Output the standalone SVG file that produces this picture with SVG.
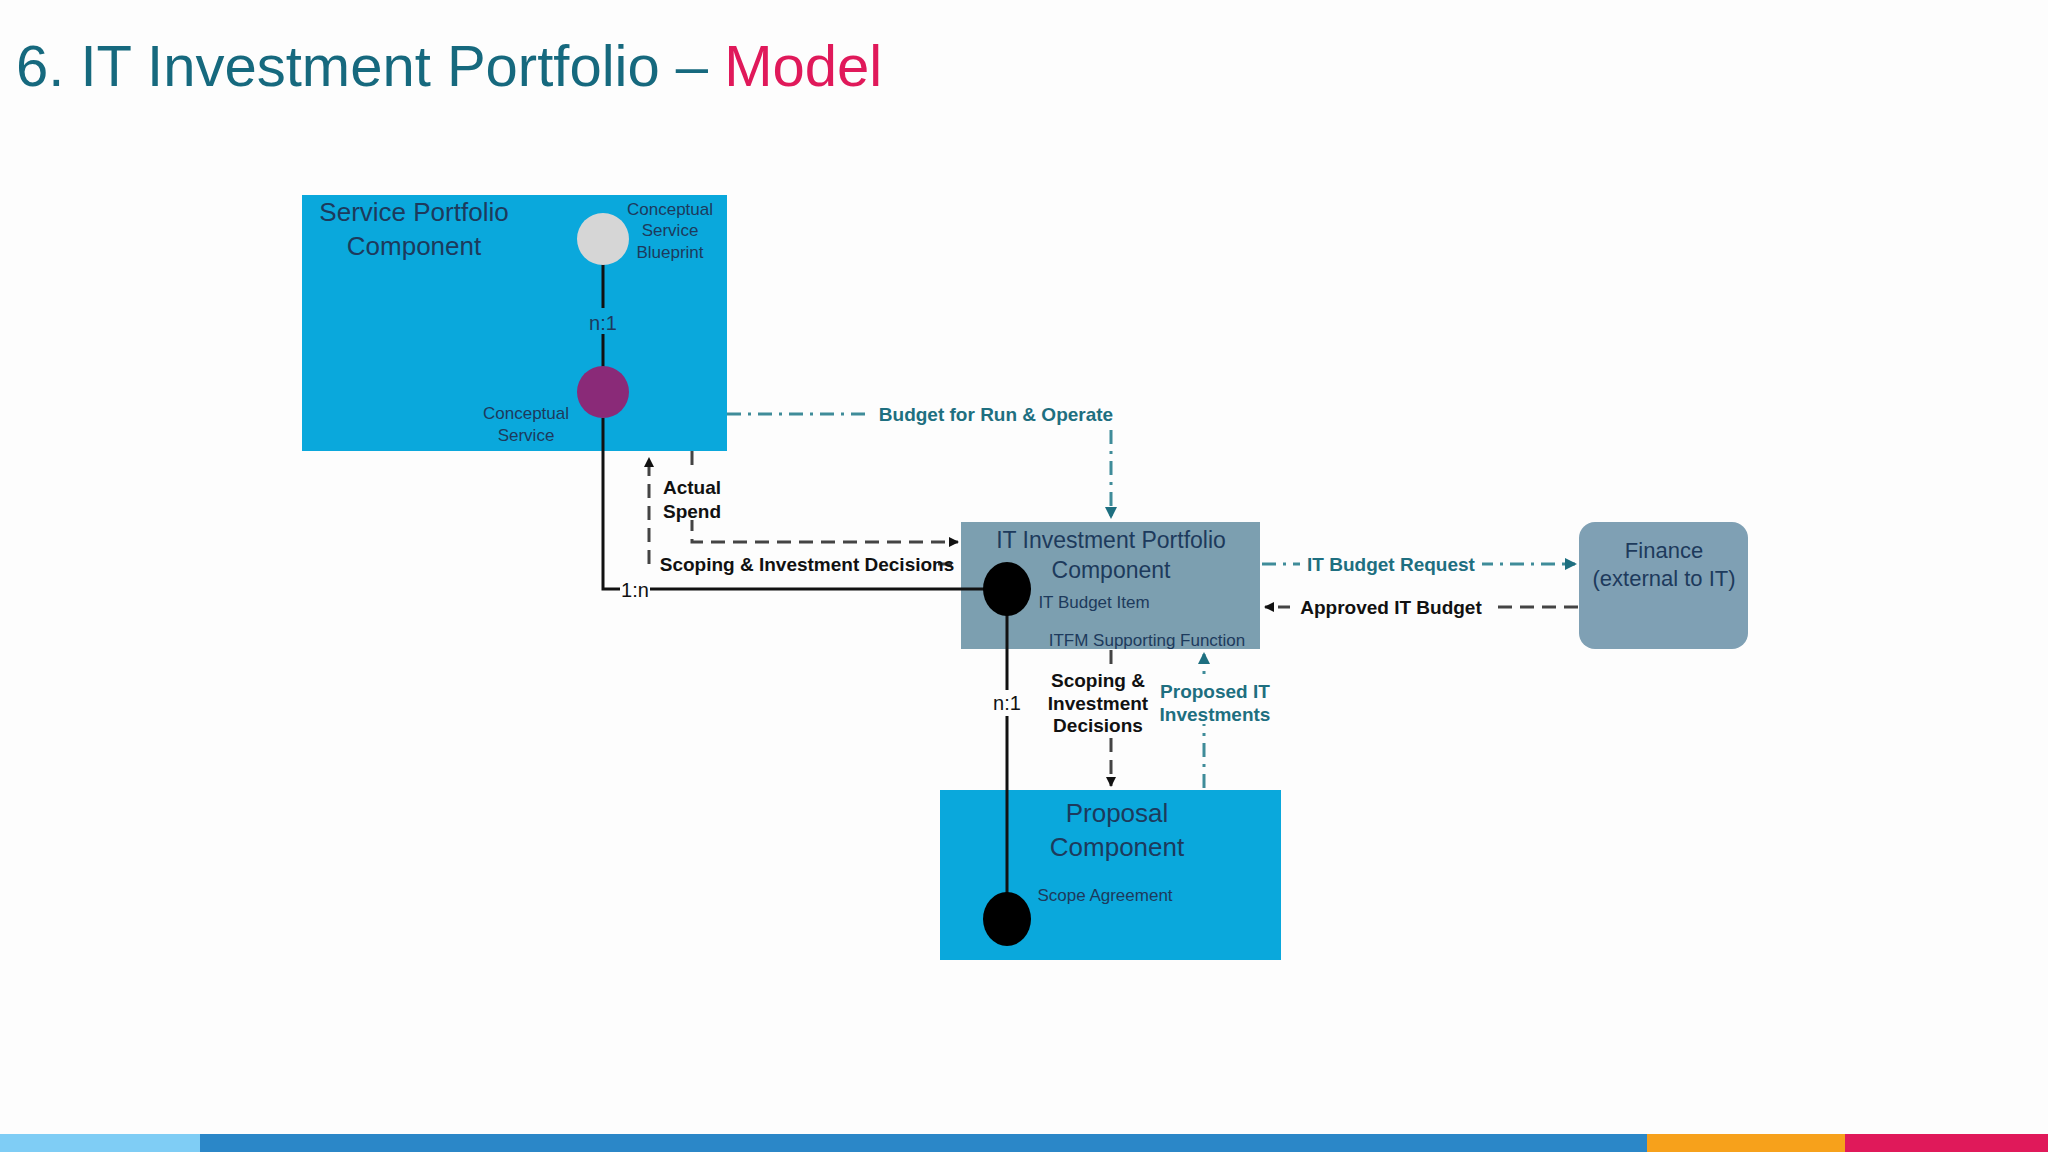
<svg xmlns="http://www.w3.org/2000/svg" width="2048" height="1152" viewBox="0 0 2048 1152">
<style>
text{font-family:"Liberation Sans",Arial,sans-serif}
.t{font-size:26px;fill:#1d3a5c;text-anchor:middle}
.s{font-size:17px;fill:#1d3a5c;text-anchor:middle}
.l{font-size:19px;font-weight:bold;fill:#111;text-anchor:middle}
.lt{font-size:19px;font-weight:bold;fill:#1e6f80;text-anchor:middle}
.k{stroke:#111;stroke-width:3;fill:none}
.d{stroke:#444;stroke-width:3;fill:none;stroke-dasharray:14 8}
.dt{stroke:#3f8c99;stroke-width:3;fill:none;stroke-dasharray:14 7 3 7}
</style>
<defs>
<marker id="ab" markerWidth="10" markerHeight="10" refX="9" refY="5" orient="auto" markerUnits="userSpaceOnUse" viewBox="0 0 10 10"><path d="M0,0L10,5L0,10z" fill="#111"/></marker>
<marker id="at" markerWidth="12" markerHeight="12" refX="10" refY="6" orient="auto" markerUnits="userSpaceOnUse" viewBox="0 0 12 12"><path d="M0,0L12,6L0,12z" fill="#1e6f80"/></marker>
</defs>
<rect width="2048" height="1152" fill="#fdfdfd"/>
<text x="16" y="86" style="font-size:58px;fill:#16697e">6. IT Investment Portfolio – <tspan fill="#e0195a">Model</tspan></text>
<g id="bar"><rect x="0" y="1134" width="200" height="18" fill="#7fcdf5"/><rect x="200" y="1134" width="1447" height="18" fill="#2b87c8"/><rect x="1647" y="1134" width="198" height="18" fill="#f7a11b"/><rect x="1845" y="1134" width="203" height="18" fill="#e0195a"/></g>
<g id="service-portfolio"><rect x="302" y="195" width="425" height="256" fill="#0aa8dc"/>
<text class="t" x="414" y="221">Service Portfolio</text><text class="t" x="414" y="255">Component</text></g>
<g id="it-investment"><rect x="961" y="522" width="299" height="127" fill="#7c9fb0"/>
<text class="t" x="1111" y="548" style="font-size:23px">IT Investment Portfolio</text><text class="t" x="1111" y="578" style="font-size:23px">Component</text>
<text class="s" x="1094" y="608">IT Budget Item</text><text class="s" x="1147" y="646">ITFM Supporting Function</text></g>
<g id="finance"><rect x="1579" y="522" width="169" height="127" rx="16" fill="#7fa0b4"/>
<text class="t" x="1664" y="558" style="font-size:22px">Finance</text><text class="t" x="1664" y="586" style="font-size:22px">(external to IT)</text></g>
<g id="proposal"><rect x="940" y="790" width="341" height="170" fill="#0aa8dc"/>
<text class="t" x="1117" y="822">Proposal</text><text class="t" x="1117" y="856">Component</text>
<text class="s" x="1105" y="901">Scope Agreement</text></g>
<g id="connectors">
<path class="k" d="M603,262V375"/><path class="k" d="M603,418V589H1007"/>
<path class="k" d="M1007,589V919"/>
<rect x="590" y="308" width="26" height="26" fill="#0aa8dc"/>
<text x="603" y="330" style="font-size:20px;fill:#1d3a5c;text-anchor:middle">n:1</text>
<rect x="620" y="578" width="30" height="22" fill="#fdfdfd"/>
<text x="635" y="597" style="font-size:20px;fill:#111;text-anchor:middle">1:n</text>
<rect x="990" y="690" width="34" height="26" fill="#fdfdfd"/>
<text x="1007" y="710" style="font-size:20px;fill:#111;text-anchor:middle">n:1</text>
<path class="d" d="M649,564V458" marker-end="url(#ab)"/>
<path class="d" d="M692,451V542H958" marker-end="url(#ab)"/>
<path class="d" d="M938,564H958"/>
<path class="dt" d="M727,414H870"/>
<path class="dt" d="M1111,430V517" marker-end="url(#at)"/>
<path class="dt" d="M1262,564H1575" marker-end="url(#at)"/>
<path class="d" d="M1578,607H1265" marker-end="url(#ab)"/>
<path class="d" d="M1111,650V786" marker-end="url(#ab)"/>
<path class="dt" d="M1204,788V654" marker-end="url(#at)"/>
<rect x="1300" y="550" width="182" height="26" fill="#fdfdfd"/>
<rect x="1290" y="594" width="200" height="26" fill="#fdfdfd"/>
<rect x="1050" y="666" width="96" height="72" fill="#fdfdfd"/>
<rect x="1155" y="676" width="120" height="48" fill="#fdfdfd"/>
<rect x="660" y="470" width="64" height="50" fill="#fdfdfd"/>
<text class="lt" x="996" y="421">Budget for Run &amp; Operate</text>
<text class="l" x="692" y="494">Actual</text><text class="l" x="692" y="518">Spend</text>
<text class="l" x="807" y="571">Scoping &amp; Investment Decisions</text>
<text class="lt" x="1391" y="571">IT Budget Request</text>
<text class="l" x="1391" y="614">Approved IT Budget</text>
<text class="l" x="1098" y="687">Scoping &amp;</text><text class="l" x="1098" y="710">Investment</text><text class="l" x="1098" y="732">Decisions</text>
<text class="lt" x="1215" y="698">Proposed IT</text><text class="lt" x="1215" y="721">Investments</text>
</g>
<g id="nodes">
<circle cx="603" cy="239" r="26" fill="#d6d6d6"/>
<circle cx="603" cy="392" r="26" fill="#8a2a78"/>
<ellipse cx="1007" cy="589" rx="24" ry="27" fill="#000"/>
<ellipse cx="1007" cy="919" rx="24" ry="27" fill="#000"/>
<text class="s" x="670" y="215">Conceptual</text><text class="s" x="670" y="236">Service</text><text class="s" x="670" y="258">Blueprint</text>
<text class="s" x="526" y="419">Conceptual</text><text class="s" x="526" y="441">Service</text>
</g>
</svg>
